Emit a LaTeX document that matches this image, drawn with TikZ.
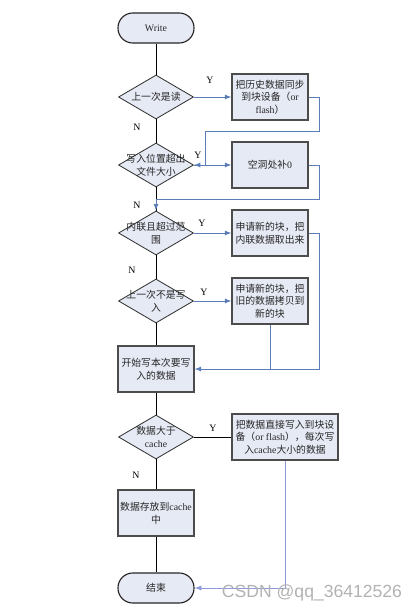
\documentclass[tikz,border=0pt]{standalone}
\usepackage{fontspec}
\setmainfont{Liberation Serif}
\newfontfamily\cjk{Noto Sans CJK SC}
\newfontfamily\wmfont{Liberation Sans}
\usetikzlibrary{shapes.geometric}
\newcommand\zh[1]{{\cjk #1}}
\definecolor{boxfill}{HTML}{E6EAF5}
\definecolor{flowblue}{HTML}{5B7DB8}
\definecolor{flowpale}{HTML}{8E9BDA}
\tikzset{
	terminal/.style={draw=black!85, line width=0.8pt, fill=boxfill, rounded corners=0.37cm, minimum width=1.9cm, minimum height=0.75cm, inner sep=0pt},
	decision/.style={diamond, draw=black!80, line width=0.6pt, fill=boxfill, minimum width=1.875cm, minimum height=1.1cm, inner sep=0pt},
	process/.style={draw=black!70, line width=0.9pt, fill=boxfill, minimum width=1.9cm, minimum height=1.15cm, inner sep=0pt},
	txt/.style={align=center, font=\fontsize{7}{9}\selectfont, text=black!85},
	line/.style={draw=black, line width=0.6pt},
	flow/.style={draw=flowblue, line width=0.6pt},
	paleflow/.style={draw=flowpale, line width=0.7pt},
	lbl/.style={font=\fontsize{7}{9}\selectfont},
}

\begin{document}
\begin{tikzpicture}[x=0.025cm, y=-0.025cm]
				\useasboundingbox (0,0) rectangle (412,611);
				
				\node[terminal, txt] (start) at (156,28) {Write};
				
				\node[decision] (d1) at (156,97) {};
				\node[txt] at (d1) {\zh{上一次是读}};
				\node[process, txt] (b1) at (270,97) {\zh{把历史数据同步}\\\zh{到块设备（}or\\flash\zh{）}};
				
				\node[decision] (d2) at (156,165) {};
				\node[txt] at (d2) {\zh{写入位置超出}\\\zh{文件大小}};
				\node[process, txt] (b2) at (270,165) {\zh{空洞处补}0};
				
				\node[decision] (d3) at (156,233) {};
				\node[txt] at (d3) {\zh{内联且超过范}\\\zh{围}};
				\node[process, txt] (b3) at (270,233) {\zh{申请新的块，把}\\\zh{内联数据取出来}};
				
				\node[decision] (d4) at (156,301) {};
				\node[txt] at (d4) {\zh{上一次不是写}\\\zh{入}};
				\node[process, txt] (b4) at (270,301) {\zh{申请新的块，把}\\\zh{旧的数据拷贝到}\\\zh{新的块}};
				
				\node[process, txt] (b5) at (156,369) {\zh{开始写本次要写}\\\zh{入的数据}};
				
				\node[decision] (d5) at (156,437) {};
				\node[txt] at (d5) {\zh{数据大于}\\cache};
				\node[process, txt, minimum width=2.65cm] (b6) at (285,437) {\zh{把数据直接写入到块设}\\\zh{备（}or flash\zh{），每次写}\\\zh{入}cache\zh{大小的数据}};
				
				\node[process, txt] (b7) at (156,513) {\zh{数据存放到}cache\\\zh{中}};
				
				\node[terminal, txt] (end) at (156,588) {\zh{结束}};
				
				\coordinate (c1) at (319,131);
				\coordinate (c2) at (205,131);
				\coordinate (c3) at (319,199);
				
				\draw[line] (start) -- (d1);
				\draw[line] (d1) -- (d2);
				\draw[line] (d2) -- (d3);
				\draw[line] (d3) -- (d4);
				\draw[line] (d4) -- (b5);
				\draw[line] (b5) -- (d5);
				\draw[line] (d5) -- (b7);
				\draw[line] (b7) -- (end);
				\draw[line] (d5.east) -- (b6.west);
				
				\draw[flow, -latex] (d1.east) -- (b1.west);
				\draw[flow, -latex] (d2.east) -- (b2.west);
				\draw[flow, -latex] (d3.east) -- (b3.west);
				\draw[flow, -latex] (d4.east) -- (b4.west);
				
				\draw[flow, -latex] (b1.east) -| (c1) -- (c2) |- (d2.east);
				\draw[flow, -latex] (b2.east) -| (c3) -- (c3 -| d3.north) -- (d3.north);
				\draw[flow, -latex] (b3.east) -- ++(11,0) |- (b5.east);
				\draw[flow] (b4.south) -- (b4.south |- b5.east);
				\draw[paleflow, -latex] (b6.south) |- (end.east);
				
				\node[lbl] at (210,80) {Y};
				\node[lbl] at (137,127) {N};
				\node[lbl] at (198,155) {Y};
				\node[lbl] at (137,205) {N};
				\node[lbl] at (202,223) {Y};
				\node[lbl] at (132,270) {N};
				\node[lbl] at (204,292) {Y};
				\node[lbl] at (213,428) {Y};
				\node[lbl] at (136,475) {N};
				
				\node[font=\fontsize{12.5}{14}\wmfont, text=gray!60] (mark) at (312,593) {CSDN @qq\_36412526};
			\end{tikzpicture}
\end{document}
